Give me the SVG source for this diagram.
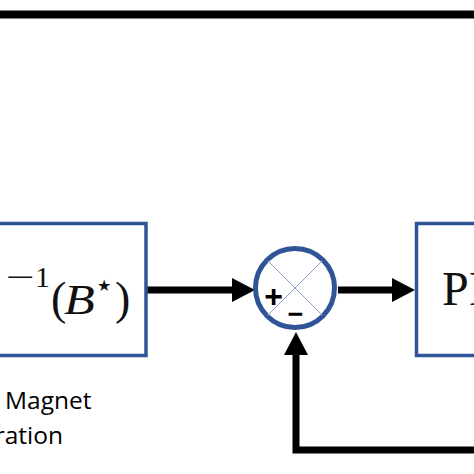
<svg xmlns="http://www.w3.org/2000/svg" width="474" height="474" viewBox="0 0 474 474">
<style>
.box{fill:#fff;stroke:#2F5597;stroke-width:3.5}
.wire{stroke:#000;stroke-width:7;fill:none}
.head{fill:#000}
.math{font-family:"Liberation Serif",serif;fill:#111}
.lbl{font-family:"Open Sans","Liberation Sans",sans-serif;font-size:24.5px;fill:#000}
.sign{font-family:"Liberation Sans",sans-serif;font-weight:bold;fill:#000}
</style>
<rect width="474" height="474" fill="#fff"/>
<g id="connectors">
<line class="wire" x1="0" y1="14.5" x2="474" y2="14.5" style="stroke-width:8"/>
<line class="wire" x1="147" y1="290" x2="235" y2="290"/>
<polygon class="head" points="232,278 255,290 232,302"/>
<line class="wire" x1="338" y1="290" x2="395" y2="290"/>
<polygon class="head" points="392,278 415,290 392,302"/>
<polyline class="wire" points="474,450 296,450 296,352"/>
<polygon class="head" points="284,355 296,332 308,355"/>
</g>
<g id="inverse-box">
<rect class="box" x="-10" y="223.5" width="156" height="132"/>
<text class="math" font-size="30" y="287"><tspan x="6" textLength="29" lengthAdjust="spacingAndGlyphs">−</tspan><tspan x="35">1</tspan></text>
<text class="math" font-size="46" x="51" y="314">(</text>
<text class="math" font-size="42" font-style="italic" transform="translate(64,314) scale(1.2,1)">B</text>
<text font-size="16" font-family="DejaVu Sans,sans-serif" fill="#111" x="97" y="291">★</text>
<text class="math" font-size="46" x="115" y="314">)</text>
</g>
<g id="sum">
<circle cx="295" cy="288" r="39.5" fill="#fff" stroke="#2F5597" stroke-width="5"/>
<line x1="267.5" y1="260.5" x2="322.5" y2="315.5" stroke="#8C9CC4" stroke-width="1"/>
<line x1="322.5" y1="260.5" x2="267.5" y2="315.5" stroke="#8C9CC4" stroke-width="1"/>
<text class="sign" x="273.5" y="306.5" font-size="32" text-anchor="middle">+</text>
<text class="sign" x="295.5" y="323" font-size="27" text-anchor="middle">−</text>
</g>
<g id="pi-box">
<rect class="box" x="416.5" y="223.5" width="80" height="132"/>
<text class="math" font-size="48" x="442" y="305">PI</text>
</g>
<g id="label">
<text class="lbl" x="5" y="409">Magnet</text>
<text class="lbl" x="63" y="444" text-anchor="end">ration</text>
</g>
</svg>
